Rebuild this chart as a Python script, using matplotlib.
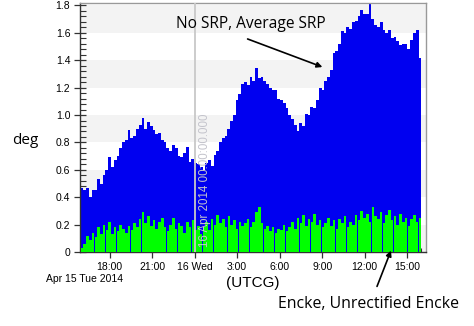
import numpy as np
import matplotlib
matplotlib.use("Agg")
import matplotlib.pyplot as plt

# ---------------- data ----------------
blue_top = [0.47, 0.45, 0.47, 0.40, 0.45, 0.45, 0.53, 0.50, 0.56, 0.60,
            0.69, 0.62, 0.67, 0.70, 0.76, 0.80, 0.82, 0.89, 0.83, 0.85,
            0.90, 0.93, 0.98, 0.90, 0.95, 0.92, 0.89, 0.86, 0.87, 0.82,
            0.80, 0.76, 0.74, 0.78, 0.76, 0.70, 0.69, 0.72, 0.77, 0.66,
            0.68, 0.65, 0.64, 0.62, 0.60, 0.65, 0.67, 0.63, 0.71, 0.74,
            0.80, 0.83, 0.85, 0.90, 0.96, 1.00, 1.11, 1.15, 1.23, 1.24,
            1.22, 1.28, 1.25, 1.34, 1.27, 1.28, 1.25, 1.23, 1.20, 1.18,
            1.18, 1.12, 1.11, 1.09, 1.05, 1.00, 0.97, 0.93, 0.88, 0.94,
            0.92, 1.01, 1.00, 1.06, 1.05, 1.11, 1.20, 1.18, 1.25, 1.28,
            1.33, 1.45, 1.47, 1.52, 1.61, 1.60, 1.64, 1.63, 1.68, 1.69,
            1.72, 1.77, 1.74, 1.74, 1.81, 1.70, 1.66, 1.64, 1.68, 1.62,
            1.60, 1.62, 1.56, 1.57, 1.54, 1.51, 1.52, 1.52, 1.48, 1.55,
            1.60, 1.62, 1.42]

green_top = [0.03, 0.06, 0.12, 0.09, 0.14, 0.11, 0.18, 0.13, 0.20, 0.16,
             0.22, 0.13, 0.18, 0.15, 0.20, 0.17, 0.14, 0.19, 0.16, 0.21,
             0.18, 0.24, 0.29, 0.21, 0.26, 0.19, 0.23, 0.17, 0.22, 0.25,
             0.18, 0.15, 0.20, 0.25, 0.17, 0.21, 0.19, 0.14, 0.22, 0.18,
             0.23, 0.16, 0.19, 0.13, 0.18, 0.22, 0.16, 0.24, 0.20, 0.27,
             0.21, 0.24, 0.18, 0.26, 0.20, 0.23, 0.17, 0.22, 0.19, 0.21,
             0.24, 0.18, 0.22, 0.29, 0.33, 0.21, 0.17, 0.19, 0.15, 0.18,
             0.14, 0.17, 0.16, 0.20, 0.15, 0.18, 0.22, 0.17, 0.25, 0.21,
             0.27, 0.19, 0.24, 0.22, 0.28, 0.20, 0.23, 0.18, 0.21, 0.25,
             0.19, 0.23, 0.17, 0.24, 0.21, 0.26, 0.18, 0.22, 0.20, 0.27,
             0.23, 0.30, 0.25, 0.28, 0.22, 0.33, 0.26, 0.24, 0.29, 0.21,
             0.27, 0.31, 0.23, 0.26, 0.20, 0.28, 0.22, 0.25, 0.19, 0.24,
             0.27, 0.22, 0.25]

t_start, t_end = 16.05, 39.9          # hours since Apr 15 00:00 UTCG
x_ticks = [18, 21, 24, 27, 30, 33, 36, 39]
x_labels = ["18:00", "21:00", "16 Wed", "3:00", "6:00", "9:00", "12:00", "15:00"]
y_ticks = [0, 0.2, 0.4, 0.6, 0.8, 1.0, 1.2, 1.4, 1.6, 1.8]
y_labels = ["0", "0.2", "0.4", "0.6", "0.8", "1.0", "1.2", "1.4", "1.6", "1.8"]

# ---------------- figure ----------------
fig = plt.figure(figsize=(4.74, 3.26), dpi=100)
ax = fig.add_axes([80/474, 1-252/326, 346/474, 249/326])
xmin, xmax = 15.91, 40.33
ymin, ymax = 0, 1.818
ax.set_xlim(xmin, xmax)
ax.set_ylim(ymin, ymax)

# alternating background bands
for k in range(0, 9, 2):
    ax.axhspan(0.2*k, 0.2*(k+1), color="#f3f3f3", zorder=0, lw=0)

t = np.linspace(t_start, t_end, len(blue_top))
step = t[1] - t[0]
ax.bar(t, blue_top, width=step*1.02, color="#0000f0", linewidth=0, zorder=2)
ax.bar(t, green_top, width=step*0.92, color="#00ff00", linewidth=0, zorder=3)

# vertical day marker
ax.axvline(24, color="#c8c8c8", lw=1.3, zorder=4)
ax.text(24.3, 0.04, "16 Apr 2014 00:00:00.000", rotation=90, color="#c4c4cc",
        fontsize=8.3, family="Liberation Sans", ha="left", va="bottom", zorder=5)

ax.set_xticks(x_ticks)
ax.set_xticklabels(x_labels, family="Liberation Sans", fontsize=7.5)
ax.set_xticks(np.arange(16, 41, 1), minor=True)
ax.set_yticks(y_ticks)
ax.set_yticklabels(y_labels, family="Liberation Sans", fontsize=7.5)
ax.set_yticks(np.arange(0, 1.81, 0.04), minor=True)
ax.tick_params(axis="y", which="major", direction="inout", length=8, width=0.9, pad=3, color="#333333")
ax.tick_params(axis="y", which="minor", direction="in", length=4, width=0.8, color="#333333")
ax.tick_params(axis="x", which="major", direction="out", length=4, width=0.9, pad=3, color="#333333")
ax.tick_params(axis="x", which="minor", direction="in", length=3, width=0.8, color="#333333")

for s in ["left", "bottom"]:
    ax.spines[s].set_color("#333333")
    ax.spines[s].set_linewidth(1.0)
for s in ["top", "right"]:
    ax.spines[s].set_color("#999999")
    ax.spines[s].set_linewidth(1.0)

# texts
fig.text(25/474, 1-140/326, "deg", fontsize=11, family="Open Sans", ha="center", va="center")
fig.text(46/474, 1-279/326, "Apr 15 Tue 2014", fontsize=7.5, family="Liberation Sans", ha="left", va="center")
fig.text(253/474, 1-283/326, "(UTCG)", fontsize=11, family="Liberation Sans", ha="center", va="center")
fig.text(176/474, 1-24/326, "No SRP, Average SRP", fontsize=11.2, family="Open Sans", ha="left", va="center")
fig.text(278/474, 1-304/326, "Encke, Unrectified Encke", fontsize=11.4, family="Open Sans", ha="left", va="center")

# arrows
fig.patches.append(matplotlib.patches.FancyArrowPatch(
    (245/474, 1-38/326), (325/474, 1-68/326), transform=fig.transFigure,
    arrowstyle="-|>", mutation_scale=8, color="black", lw=1.2, zorder=10))
fig.patches.append(matplotlib.patches.FancyArrowPatch(
    (376/474, 1-289/326), (392/474, 1-248/326), transform=fig.transFigure,
    arrowstyle="-|>", mutation_scale=8, color="black", lw=1.2, zorder=10))

fig.savefig("out.png", dpi=100)
